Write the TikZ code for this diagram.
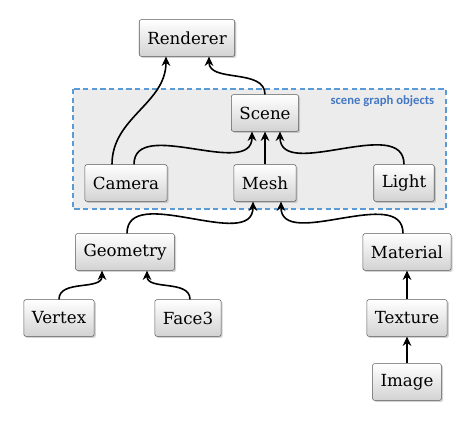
\documentclass[tikz,border=0pt]{standalone}
\usepackage{fontspec}
\setmainfont{DejaVu Serif}
\newfontfamily\grpfont{Carlito}
\usetikzlibrary{arrows.meta,shadows}
\definecolor{grpblue}{RGB}{68,120,196}
\definecolor{grpedge}{RGB}{91,155,213}

\tikzset{
  obj/.style={draw=gray!70!black, rounded corners=1.5pt, top color=white, bottom color=gray!35,
    drop shadow={shadow xshift=1.2pt, shadow yshift=-1.2pt, opacity=0.35},
    inner xsep=6pt, minimum height=27.5pt, font=\fontsize{12.5}{14}\selectfont},
  dep/.style={-{Stealth[length=7pt,width=6.5pt]}, line width=1.2pt},
  group/.style={draw=grpedge, dashed, dash pattern=on 4pt off 2.5pt, fill=gray!15, line width=1pt},
  grouplabel/.style={text=grpblue, font=\grpfont\bfseries\fontsize{9.5}{11}\selectfont}
}

\begin{document}
\begin{tikzpicture}[x=0.75pt,y=0.75pt]
\useasboundingbox (0,0) rectangle (474,-421);
\draw[group] (73,-89) rectangle (446,-209);
\node[grouplabel, anchor=east] (glabel) at (439,-101) {scene graph objects};
\node[obj] (ren) at (187,-38) {Renderer};
\node[obj] (scene) at (265,-113) {Scene};
\node[obj] (cam) at (126,-183) {Camera};
\node[obj] (mesh) at (265,-183) {Mesh};
\node[obj] (light) at (404,-183) {Light};
\node[obj] (geo) at (125,-252) {Geometry};
\node[obj] (mat) at (407,-252) {Material};
\node[obj] (vert) at (59,-318) {Vertex};
\node[obj] (face) at (188,-318) {Face3};
\node[obj] (tex) at (407,-318) {Texture};
\node[obj] (img) at (407,-382) {Image};
\draw[dep] ([xshift=-10.5pt]cam.north) to[out=90,in=-90] ([xshift=-15.75pt]ren.south);
\draw[dep] (scene.north) to[out=90,in=-90] ([xshift=16.5pt]ren.south);
\draw[dep] ([xshift=6pt]cam.north) to[out=90,in=-90] ([xshift=-9.75pt]scene.south);
\draw[dep] (mesh) -- (scene);
\draw[dep] (light.north) to[out=90,in=-90] ([xshift=11.25pt]scene.south);
\draw[dep] ([xshift=1.5pt]geo.north) to[out=90,in=-90] ([xshift=-9pt]mesh.south);
\draw[dep] ([xshift=-3pt]mat.north) to[out=90,in=-90] ([xshift=12pt]mesh.south);
\draw[dep] (vert.north) to[out=90,in=-90] ([xshift=-17.25pt]geo.south);
\draw[dep] ([xshift=1.5pt]face.north) to[out=90,in=-90] ([xshift=16.5pt]geo.south);
\draw[dep] (tex) -- (mat);
\draw[dep] (img) -- (tex);
\end{tikzpicture}
\end{document}
